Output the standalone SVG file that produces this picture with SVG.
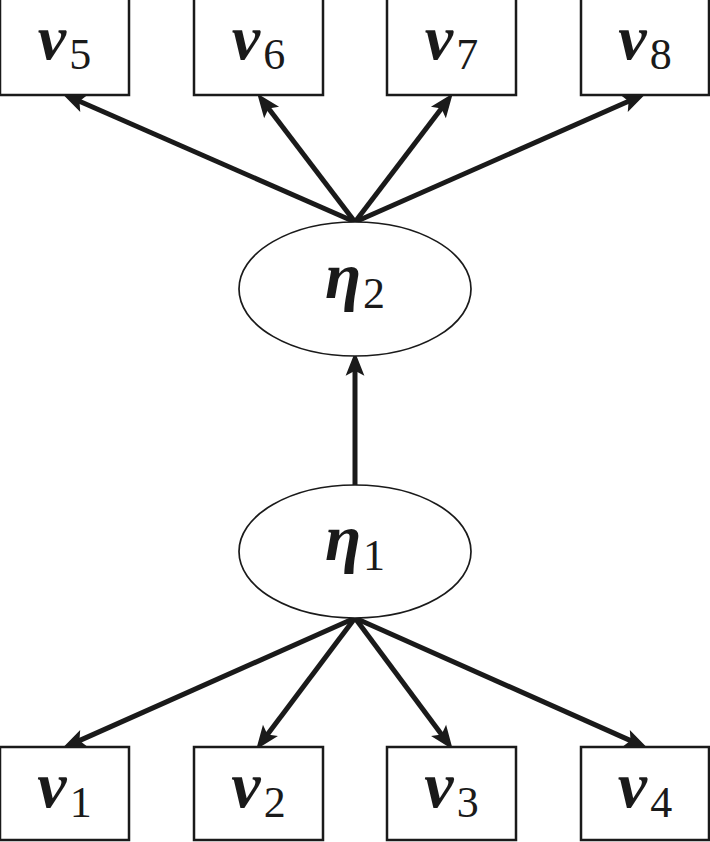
<svg xmlns="http://www.w3.org/2000/svg" width="710" height="842" viewBox="0 0 710 842">
<style>
.box{fill:#fff;stroke:#1a1a1a;stroke-width:2.5}
.ell{fill:#fff;stroke:#1a1a1a;stroke-width:1.7}
.edge{stroke:#1a1a1a;stroke-width:5;fill:none;marker-end:url(#ah)}
.lbl{font-family:"Liberation Serif","DejaVu Serif",serif;font-size:66px;font-weight:bold;font-style:italic;fill:#1a1a1a;text-anchor:middle}
.top{font-size:64px}
.sub{font-size:44px;font-weight:normal;font-style:normal}
</style>
<defs>
<marker id="ah" markerUnits="userSpaceOnUse" markerWidth="30" markerHeight="30" viewBox="-10 -10 24 20" refX="0" refY="0" orient="auto">
<path d="M12,0 L-7,-7.5 L-3,0 L-7,7.5 Z" fill="#1a1a1a"/>
</marker>
</defs>
<rect width="710" height="842" fill="#fff"/>
<g id="connectors">
<line class="edge" x1="355" y1="222" x2="76" y2="99.8"/>
<line class="edge" x1="355" y1="222" x2="266.3" y2="105.5"/>
<line class="edge" x1="355" y1="222" x2="443.7" y2="105.5"/>
<line class="edge" x1="355" y1="222" x2="632" y2="99.8"/>
<line class="edge" x1="355" y1="485" x2="355" y2="367"/>
<line class="edge" x1="355" y1="618" x2="76" y2="742.1"/>
<line class="edge" x1="355" y1="618" x2="265.2" y2="737.4"/>
<line class="edge" x1="355" y1="618" x2="443.8" y2="737.4"/>
<line class="edge" x1="355" y1="618" x2="634" y2="742.1"/>
</g>
<g id="v5"><rect class="box" x="0" y="-2" width="129" height="97"/><text class="lbl top" x="64.5" y="59">v<tspan class="sub" dx="3" dy="10">5</tspan></text></g>
<g id="v6"><rect class="box" x="194" y="-2" width="129" height="97"/><text class="lbl top" x="258.5" y="59">v<tspan class="sub" dx="3" dy="10">6</tspan></text></g>
<g id="v7"><rect class="box" x="387" y="-2" width="129" height="97"/><text class="lbl top" x="451.5" y="59">v<tspan class="sub" dx="3" dy="10">7</tspan></text></g>
<g id="v8"><rect class="box" x="581" y="-2" width="128" height="97"/><text class="lbl top" x="645" y="59">v<tspan class="sub" dx="3" dy="10">8</tspan></text></g>
<g id="eta2"><ellipse class="ell" cx="355" cy="289" rx="116" ry="67"/><text class="lbl" x="355" y="298">η<tspan class="sub" dx="2" dy="10">2</tspan></text></g>
<g id="eta1"><ellipse class="ell" cx="355" cy="551.5" rx="116" ry="66.5"/><text class="lbl" x="355" y="560">η<tspan class="sub" dx="2" dy="10">1</tspan></text></g>
<g id="v1"><rect class="box" x="0" y="747" width="129" height="93"/><text class="lbl" x="64.5" y="807">v<tspan class="sub" dx="3" dy="10">1</tspan></text></g>
<g id="v2"><rect class="box" x="194" y="747" width="129" height="93"/><text class="lbl" x="258.5" y="807">v<tspan class="sub" dx="3" dy="10">2</tspan></text></g>
<g id="v3"><rect class="box" x="387" y="747" width="129" height="93"/><text class="lbl" x="451.5" y="807">v<tspan class="sub" dx="3" dy="10">3</tspan></text></g>
<g id="v4"><rect class="box" x="581" y="747" width="128" height="93"/><text class="lbl" x="645" y="807">v<tspan class="sub" dx="3" dy="10">4</tspan></text></g>
</svg>
